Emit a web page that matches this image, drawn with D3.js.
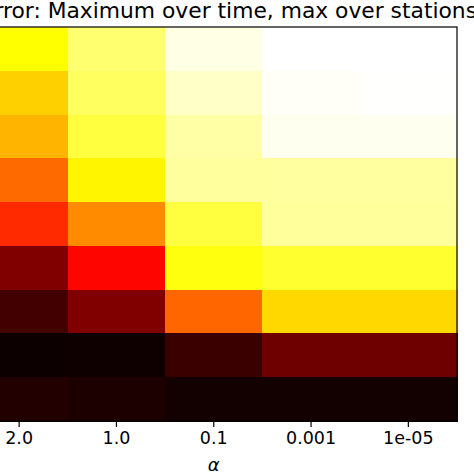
<!DOCTYPE html>
<html>
<head>
<meta charset="utf-8">
<script src="https://cdn.jsdelivr.net/npm/d3@7"></script>
<style>
  html, body { margin: 0; padding: 0; background: #fff; overflow: hidden; }
  svg { display: block; font-family: "DejaVu Sans", sans-serif; }
</style>
</head>
<body>
<svg id="chart" width="474" height="474"></svg>
<script>
// ---- data (normalized error values, 0..1, mapped through the "hot" colormap) ----
const alphaLabels = ["2.0", "1.0", "0.1", "0.001", "1e-05"];
const rowIds = ["r0", "r1", "r2", "r3", "r4", "r5", "r6", "r7", "r8"];
const col_2_0   = [0.746, 0.676, 0.634, 0.524, 0.428, 0.175, 0.082, 0.004, 0.035];
const col_1_0   = [0.858, 0.842, 0.810, 0.731, 0.574, 0.372, 0.175, 0.006, 0.026];
const col_0_1   = [0.975, 0.944, 0.910, 0.902, 0.810, 0.760, 0.517, 0.071, 0.012];
const col_0_001 = [1.000, 0.993, 0.985, 0.905, 0.900, 0.794, 0.688, 0.148, 0.012];
const col_1e_05 = [1.000, 0.998, 0.985, 0.905, 0.900, 0.794, 0.688, 0.148, 0.012];
const titleText = "Error: Maximum over time, max over stations";
const xLabel = "α";

const columns = [col_2_0, col_1_0, col_0_1, col_0_001, col_1e_05];

// matplotlib "hot" colormap
function hot(t) {
  t = Math.max(0, Math.min(1, t));
  const r = t < 0.365079 ? 0.0416 + (1 - 0.0416) * t / 0.365079 : 1;
  const g = t < 0.365079 ? 0 : (t < 0.746032 ? (t - 0.365079) / (0.746032 - 0.365079) : 1);
  const b = t < 0.746032 ? 0 : (t - 0.746032) / (1 - 0.746032);
  return d3.rgb(r * 255, g * 255, b * 255).toString();
}

const svg = d3.select("#chart");
const plotRight = 457, plotTop = 27, plotBottom = 421;
const cellW = 97.3;
const plotLeft = plotRight - alphaLabels.length * cellW;

const x = d3.scaleBand().domain(alphaLabels).range([plotLeft, plotRight]).paddingInner(0).paddingOuter(0);
const y = d3.scaleBand().domain(rowIds).range([plotTop, plotBottom]).paddingInner(0).paddingOuter(0);

const cells = [];
alphaLabels.forEach((a, ci) => {
  rowIds.forEach((r, ri) => cells.push({ a, r, v: columns[ci][ri] }));
});

svg.append("g")
  .selectAll("rect")
  .data(cells)
  .join("rect")
  .attr("x", d => x(d.a))
  .attr("y", d => y(d.r))
  .attr("width", x.bandwidth() + 0.5)
  .attr("height", y.bandwidth() + 0.5)
  .attr("fill", d => hot(d.v))
  .attr("shape-rendering", "crispEdges");

// frame
svg.append("rect")
  .attr("x", plotLeft).attr("y", plotTop)
  .attr("width", plotRight - plotLeft).attr("height", plotBottom - plotTop)
  .attr("fill", "none").attr("stroke", "#000").attr("stroke-width", 1.2);

// x axis
const xAxis = d3.axisBottom(x).tickSizeOuter(0).tickSizeInner(6).tickPadding(5);
const gx = svg.append("g").attr("transform", `translate(0,${plotBottom})`).call(xAxis);
gx.select(".domain").remove();
gx.selectAll(".tick line").attr("stroke", "#000").attr("stroke-width", 1.2);
gx.selectAll(".tick text")
  .attr("fill", "#000")
  .style("font-family", "DejaVu Sans, sans-serif")
  .style("font-size", "17.5px");

svg.append("text")
  .attr("x", (plotLeft + plotRight) / 2)
  .attr("y", 471)
  .attr("text-anchor", "middle")
  .style("font-size", "18px")
  .style("font-style", "italic")
  .attr("fill", "#000")
  .text(xLabel);

svg.append("text")
  .attr("x", 477)
  .attr("y", 18)
  .attr("text-anchor", "end")
  .style("font-size", "21.8px")
  .attr("fill", "#000")
  .text(titleText);
</script>
</body>
</html>
